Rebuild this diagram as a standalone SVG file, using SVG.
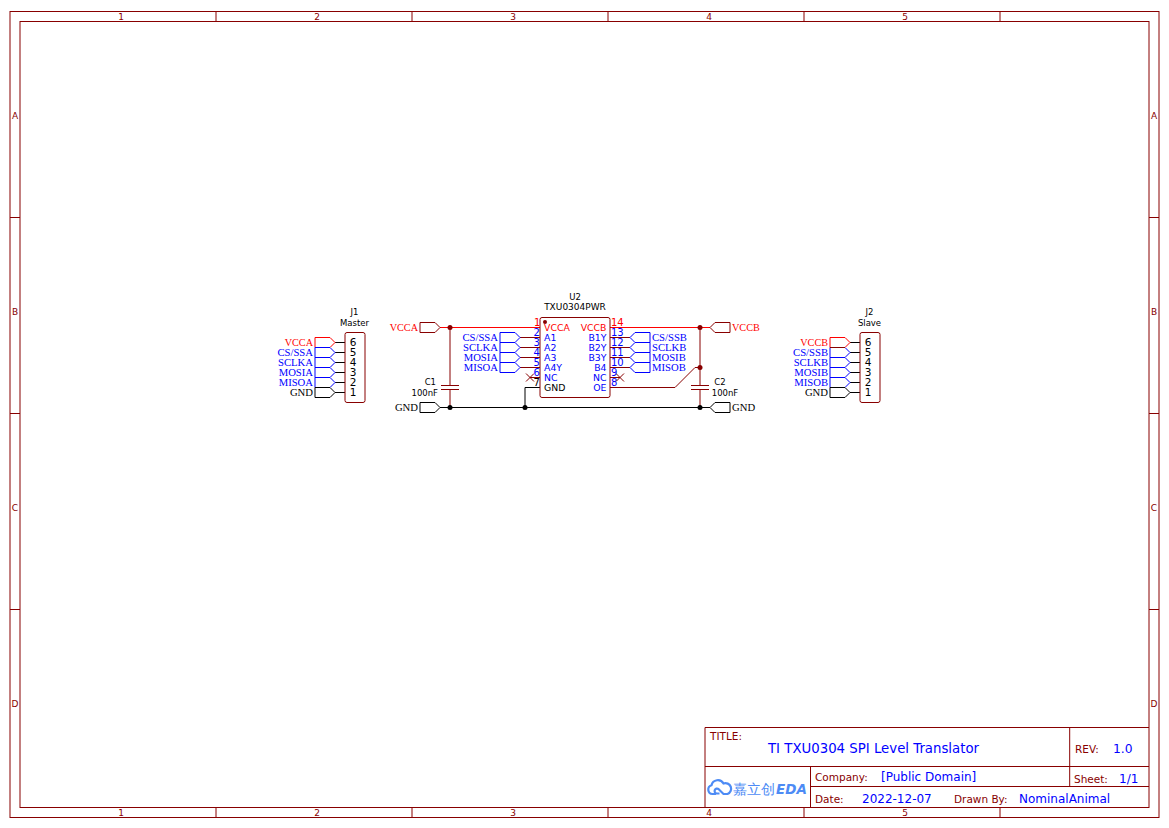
<svg xmlns="http://www.w3.org/2000/svg" width="1169" height="828" viewBox="0 0 1169 828">
<defs>
<style>
text{font-family:"DejaVu Sans",sans-serif;white-space:pre}
.f{fill:none;stroke:#880000;stroke-width:1}
.tk{font-size:9px;fill:#880000;text-anchor:middle}
.tb{font-size:10.5px;fill:#880000}
.tv{font-size:12px;fill:#0000ff}
.net{font-family:"Liberation Serif",serif;font-size:10.67px}
.pn{font-size:10.5px;fill:#000000;text-anchor:middle}
.sm{font-size:8.5px;fill:#000000;text-anchor:middle}
.pb{font-size:10px;fill:#0000ff}
.pi{font-size:9.33px;fill:#0000ff}
.blue{fill:#0000ff}.red{fill:#ff0000}.blk{fill:#000000}
.net.red{font-size:10.2px}
.e{text-anchor:end}
.flag{fill:#fff;stroke-width:1}
.w{fill:none;stroke-width:1}
.dr{stroke:#880000}.rd{stroke:#ff0000}.bk{stroke:#000000}.bl{stroke:#0000ff}
</style>
<polygon id="fr" points="0,-4.500 15,-4.500 20,0.500 15,5.500 0,5.500" class="flag"/>
<polygon id="fl" points="0,-4.500 -15,-4.500 -20,0.500 -15,5.500 0,5.500" class="flag"/>
</defs>
<rect width="1169" height="828" fill="#fff"/>
<g id="frame">
<rect class="f" x="10" y="11.500" width="1149" height="806"/>
<rect class="f" x="20" y="21.500" width="1129" height="786"/>
<path class="f" d="M216 11.500V21.500M412 11.500V21.500M608 11.500V21.500M804 11.500V21.500M1000 11.500V21.500M216 807.500V817.500M412 807.500V817.500M608 807.500V817.500M804 807.500V817.500M1000 807.500V817.500M10 217.500H20M10 413.500H20M10 609.500H20M1149 217.500H1159M1149 413.500H1159M1149 609.500H1159"/>
<text class="tk" x="121" y="20">1</text><text class="tk" x="317" y="20">2</text><text class="tk" x="513" y="20">3</text><text class="tk" x="709" y="20">4</text><text class="tk" x="905" y="20">5</text>
<text class="tk" x="121" y="816">1</text><text class="tk" x="317" y="816">2</text><text class="tk" x="513" y="816">3</text><text class="tk" x="709" y="816">4</text><text class="tk" x="905" y="816">5</text>
<text class="tk" x="15" y="119">A</text><text class="tk" x="15" y="315">B</text><text class="tk" x="15" y="511">C</text><text class="tk" x="15" y="707">D</text>
<text class="tk" x="1154" y="119">A</text><text class="tk" x="1154" y="315">B</text><text class="tk" x="1154" y="511">C</text><text class="tk" x="1154" y="707">D</text>
</g>
<g id="title-block">
<path class="f" d="M705 807.500V727.500H1149M705 766.500H1149M810.500 786.500H1149M810.500 766.500V807.500M1069.700 727.500V786.500"/>
<text class="tb" x="710" y="740">TITLE:</text>
<text x="768" y="753" font-size="13.300" fill="#0000ff">TI TXU0304 SPI Level Translator</text>
<text class="tb" x="1075" y="753">REV:</text><text class="tv" x="1113" y="753" style="font-size:12.300px">1.0</text>
<text class="tb" x="815" y="781">Company:</text><text class="tv" x="881" y="781">[Public Domain]</text>
<text class="tb" x="1074" y="782.500">Sheet:</text><text class="tv" x="1119" y="782.500">1/1</text>
<text class="tb" x="815" y="803">Date:</text><text class="tv" x="862" y="803">2022-12-07</text>
<text class="tb" x="954" y="803">Drawn By:</text><text class="tv" x="1019" y="803">NominalAnimal</text>
<g id="logo">
<path d="M716 794h-3.500a4.500 4.500 0 0 1-1-8.800a6.500 6.500 0 0 1 12-1.700a5.500 5.500 0 0 1 4 10.500h-4l-5-5a2.500 2.500 0 1 0-2 4.500h3" fill="none" stroke="#4d8bf5" stroke-width="2.200"/>
<text x="733" y="794" font-family="'Noto Sans CJK SC',sans-serif" font-size="14.300" font-weight="500" fill="#4d8bf5">嘉立创</text>
<text x="776" y="794" font-size="13.500" font-weight="700" font-style="italic" fill="#4d8bf5">EDA</text>
</g>
</g>
<g id="connectors">
<g transform="translate(0 .5)">
<path class="w rd" d="M440 327H540M610 327H710"/>
<path class="w bk" d="M440 407H710M525 407V387H540"/>
<path class="w dr" d="M450 327V385M450 389V407M700 327V385M700 389V407M520 337H540M520 347H540M520 357H540M520 367H540M530 377H540M610 337H630M610 347H630M610 357H630M610 367H630M610 377H620M610 387H675L695 367H700"/>
<path class="w dr" d="M526 373l8 8m0-8l-8 8M616 373l8 8m0-8l-8 8"/>
<g fill="#880000"><circle cx="450" cy="327" r="2.500"/><circle cx="700" cy="327" r="2.500"/><circle cx="700" cy="367" r="2.500"/></g>
<g fill="#000"><circle cx="450" cy="407" r="2.500"/><circle cx="525" cy="407" r="2.500"/><circle cx="700" cy="407" r="2.500"/></g>
</g>
</g>
<g id="J1">
<path class="w bk" d="M335 342.500H345M335 352.500H345M335 362.500H345M335 372.500H345M335 382.500H345M335 392.500H345"/>
<rect class="f" x="345" y="332.500" width="20" height="70" rx="2"/>
<text class="sm" x="354.500" y="315">J1</text><text class="sm" x="354.500" y="326">Master</text>
<text class="pn" x="353" y="346">6</text><text class="pn" x="353" y="356">5</text><text class="pn" x="353" y="366">4</text><text class="pn" x="353" y="376">3</text><text class="pn" x="353" y="386">2</text><text class="pn" x="353" y="396">1</text>
<use href="#fr" x="315" y="342" class="rd"/><use href="#fr" x="315" y="352" class="bl"/><use href="#fr" x="315" y="362" class="bl"/><use href="#fr" x="315" y="372" class="bl"/><use href="#fr" x="315" y="382" class="bl"/><use href="#fr" x="315" y="392" class="bk"/>
<text class="net e red" x="313" y="346">VCCA</text><text class="net e blue" x="313" y="356">CS/SSA</text><text class="net e blue" x="313" y="366">SCLKA</text><text class="net e blue" x="313" y="376">MOSIA</text><text class="net e blue" x="313" y="386">MISOA</text><text class="net e blk" x="313" y="396">GND</text>
</g>
<g id="C1">
<path class="w dr" d="M441 385.500H459M441 389.500H459"/>
<text class="sm" style="text-anchor:end" x="436" y="385">C1</text><text class="sm" style="text-anchor:end" x="438" y="396">100nF</text>
</g>
<g id="VCCA-flag"><use href="#fr" x="420" y="327" class="dr"/><text class="net e red" x="418" y="331">VCCA</text></g>
<g id="GND-flag-1"><use href="#fr" x="420" y="407" class="bk"/><text class="net e blk" x="418" y="411">GND</text></g>
<g id="U2">
<rect class="f" x="540" y="317.500" width="70" height="80" rx="2"/>
<circle cx="545" cy="322" r="2" fill="#880000"/>
<text class="sm" x="575" y="300">U2</text><text class="sm" x="575" y="310" style="font-size:9px">TXU0304PWR</text>
<text class="pb red" x="534" y="326">1</text><text class="pb" x="533.500" y="336">2</text><text class="pb" x="533.500" y="346">3</text><text class="pb" x="533.500" y="356">4</text><text class="pb" x="533.500" y="366">5</text><text class="pb" x="533.500" y="376">6</text><text class="pb" x="533.500" y="386" style="fill:#000">7</text>
<text class="pb red" x="611" y="326">14</text><text class="pb" x="611" y="336">13</text><text class="pb" x="611" y="346">12</text><text class="pb" x="611" y="356">11</text><text class="pb" x="611" y="366">10</text><text class="pb" x="611" y="376">9</text><text class="pb" x="611" y="386">8</text>
<text class="pi red" x="544" y="331">VCCA</text><text class="pi" x="544" y="341">A1</text><text class="pi" x="544" y="351">A2</text><text class="pi" x="544" y="361">A3</text><text class="pi" x="544" y="371">A4Y</text><text class="pi" x="544" y="381">NC</text><text class="pi" x="544" y="391" style="fill:#000">GND</text>
<text class="pi red e" x="606.500" y="331">VCCB</text><text class="pi e" x="606.500" y="341">B1Y</text><text class="pi e" x="606.500" y="351">B2Y</text><text class="pi e" x="606.500" y="361">B3Y</text><text class="pi e" x="606.500" y="371">B4</text><text class="pi e" x="606.500" y="381">NC</text><text class="pi e" x="606.500" y="391">OE</text>
</g>
<g id="left-flags">
<use href="#fr" x="500" y="337" class="bl"/><use href="#fr" x="500" y="347" class="bl"/><use href="#fr" x="500" y="357" class="bl"/><use href="#fr" x="500" y="367" class="bl"/>
<text class="net e blue" x="498" y="341">CS/SSA</text><text class="net e blue" x="498" y="351">SCLKA</text><text class="net e blue" x="498" y="361">MOSIA</text><text class="net e blue" x="498" y="371">MISOA</text>
</g>
<g id="right-flags">
<use href="#fl" x="650" y="337" class="bl"/><use href="#fl" x="650" y="347" class="bl"/><use href="#fl" x="650" y="357" class="bl"/><use href="#fl" x="650" y="367" class="bl"/>
<text class="net blue" x="652" y="341">CS/SSB</text><text class="net blue" x="652" y="351">SCLKB</text><text class="net blue" x="652" y="361">MOSIB</text><text class="net blue" x="652" y="371">MISOB</text>
</g>
<g id="C2">
<path class="w dr" d="M691 385.500H709M691 389.500H709"/>
<text class="sm" x="720" y="385">C2</text><text class="sm" x="725" y="396">100nF</text>
</g>
<g id="VCCB-flag"><use href="#fl" x="730" y="327" class="dr"/><text class="net red" x="732" y="331">VCCB</text></g>
<g id="GND-flag-2"><use href="#fl" x="730" y="407" class="bk"/><text class="net blk" x="732" y="411">GND</text></g>
<g id="J2">
<path class="w bk" d="M850 342.500H860M850 352.500H860M850 362.500H860M850 372.500H860M850 382.500H860M850 392.500H860"/>
<rect class="f" x="860" y="332.500" width="20" height="70" rx="2"/>
<text class="sm" x="869.500" y="315">J2</text><text class="sm" x="869.500" y="326">Slave</text>
<text class="pn" x="868" y="346">6</text><text class="pn" x="868" y="356">5</text><text class="pn" x="868" y="366">4</text><text class="pn" x="868" y="376">3</text><text class="pn" x="868" y="386">2</text><text class="pn" x="868" y="396">1</text>
<use href="#fr" x="830" y="352" class="bl"/><use href="#fr" x="830" y="362" class="bl"/><use href="#fr" x="830" y="372" class="bl"/><use href="#fr" x="830" y="382" class="bl"/><use href="#fr" x="830" y="392" class="bk"/><use href="#fr" x="830" y="342" class="rd"/>
<path class="w dr" d="M830 347.500H845"/>
<text class="net e red" x="828" y="346">VCCB</text><text class="net e blue" x="828" y="356">CS/SSB</text><text class="net e blue" x="828" y="366">SCLKB</text><text class="net e blue" x="828" y="376">MOSIB</text><text class="net e blue" x="828" y="386">MISOB</text><text class="net e blk" x="828" y="396">GND</text>
</g>
</svg>
